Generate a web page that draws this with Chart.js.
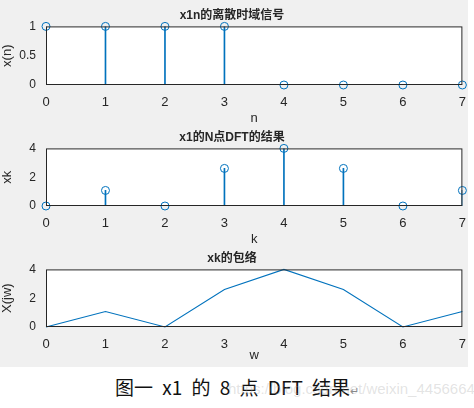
<!DOCTYPE html>
<html><head><meta charset="utf-8">
<script src="https://cdn.jsdelivr.net/npm/chart.js@4"></script>
<style>
body{margin:0;background:#fff;width:474px;height:408px;position:relative;overflow:hidden;font-family:"Liberation Sans",Arial,sans-serif}
#fig{position:absolute;left:0;top:0;width:468px;height:367px;background:#f0f0f0}
.c{position:absolute;left:0;width:468px}
#cap{position:absolute;left:0;width:474px;top:373px;text-align:center;font-family:"Noto Sans CJK SC";font-size:19px;color:#111;word-spacing:5px}
#wm{position:absolute;left:228px;top:380px;font-size:15px;color:rgba(160,160,160,0.3);font-family:"Liberation Sans"}
</style></head><body>
<div id="fig"></div>
<div class="c" style="top:8px;height:122px"><canvas id="c1"></canvas></div>
<div class="c" style="top:130px;height:121px"><canvas id="c2"></canvas></div>
<div class="c" style="top:251px;height:116px"><canvas id="c3"></canvas></div>
<div id="cap">图一 x1 的 8 点 DFT 结果<span style="font-size:11px;color:#888">↵</span></div>
<div id="wm">https://blog.csdn.net/weixin_44566643</div>
<script>
const n=[0,1,2,3,4,5,6,7];
const x1=[1,1,1,1,0,0,0,0];
const xk=[0,1.08,0,2.61,4,2.61,0,1.08];
const ticks1=[0,0.5,1];
const ticks2=[0,2,4];
const C='#0072BD';
const box={id:'box',afterDraw(ch){const a=ch.chartArea,g=ch.ctx;g.save();g.fillStyle='#fff';g.globalCompositeOperation='destination-over';g.fillRect(a.left,a.top,a.right-a.left,a.bottom-a.top);g.globalCompositeOperation='source-over';g.strokeStyle='#262626';g.lineWidth=1;g.strokeRect(a.left+0.5,a.top+0.5,a.right-a.left-1,a.bottom-a.top-1);g.restore();}};
function mk(id,title,ylab,xlab,ys,ymax,ytk,stem,xh){
  const ds=stem?[
    {type:'bar',data:n.map((v,i)=>({x:v,y:ys[i]})),backgroundColor:C,barThickness:1,order:2},
    {type:'line',data:n.map((v,i)=>({x:v,y:ys[i]})),showLine:false,pointRadius:4,pointBorderColor:C,pointBackgroundColor:'rgba(0,0,0,0)',pointBorderWidth:1,clip:false,order:1}
  ]:[{type:'line',data:n.map((v,i)=>({x:v,y:ys[i]})),borderColor:C,borderWidth:1.1,pointRadius:0,tension:0,clip:false}];
  new Chart(document.getElementById(id),{data:{datasets:ds},plugins:[box],options:{
    responsive:true,maintainAspectRatio:false,animation:false,
    layout:{padding:{right:4,left:0,top:0,bottom:0}},
    plugins:{legend:{display:false},tooltip:{enabled:false},title:{display:true,text:title,color:'#262626',font:{family:'Liberation Sans, Noto Sans CJK SC',size:12,weight:'bold'},padding:{top:0,bottom:4}}},
    scales:{
      x:{type:'linear',min:0,max:7,offset:false,grid:{display:false},border:{display:false},
        ticks:{stepSize:1,color:'#262626',font:{family:'Liberation Sans',size:13},padding:2},
        title:{display:true,text:xlab,color:'#262626',font:{family:'Liberation Sans',size:13},padding:{top:4}},
        afterFit(s){s.height=xh;}},
      y:{min:0,max:ymax,grid:{display:false},border:{display:false},
        afterBuildTicks(s){s.ticks=ytk.map(v=>({value:v}));},
        ticks:{color:'#262626',font:{family:'Liberation Sans',size:12},padding:2,callback:v=>String(v)},
        title:{display:true,text:ylab,color:'#262626',font:{family:'Liberation Sans',size:13},padding:{top:0,bottom:0}},
        afterFit(s){s.width=46;}}
    }}});
}
mk('c1','x1n的离散时域信号','x(n)','n',x1,1,ticks1,true,45);
mk('c2','x1的N点DFT的结果','xk','k',xk,4,ticks2,true,45);
mk('c3','xk的包络','X(jw)','w',xk,4,ticks2,false,40);
</script></body></html>
